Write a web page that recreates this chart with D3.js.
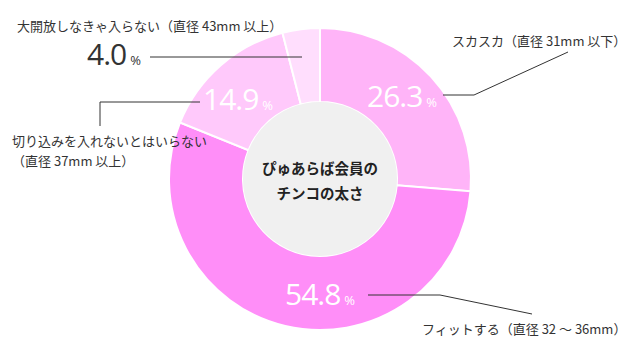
<!DOCTYPE html>
<html>
<head>
<meta charset="utf-8">
<script src="https://cdn.jsdelivr.net/npm/d3@7"></script>
<style>
  html, body { margin: 0; padding: 0; background: #fff; }
  svg { display: block; font-family: "Noto Sans CJK JP", "Noto Sans", sans-serif; }
</style>
</head>
<body>
<svg id="chart" width="640" height="360"></svg>
<script>
// データ（時計回り、12時の位置から）
const categories = [
  "スカスカ（直径 31mm 以下）",
  "フィットする（直径 32 ～ 36mm）",
  "切り込みを入れないとはいらない|（直径 37mm 以上）",
  "大開放しなきゃ入らない（直径 43mm 以上）"
];
const values = [26.3, 54.8, 14.9, 4.0];
const sliceColors = ["#ffb4f8", "#ff8ef8", "#ffc9fb", "#ffdefd"];
const centerTitle = ["ぴゅあらば会員の", "チンコの太さ"];

// ラベル配置（数値ラベル / カテゴリ名 / 引き出し線）
const labelLayout = [
  { value: [367, 107], valueColor: "#fff", name: [452, 46], line: [[443, 95], [474, 95], [568, 52]] },
  { value: [285, 305], valueColor: "#fff", name: [422, 334], line: [[368, 295], [440, 295], [532, 314]] },
  { value: [203, 110], valueColor: "#fff", name: [12, 146], line: [[200, 102], [100, 102], [100, 126]] },
  { value: [87, 65], valueColor: "#333", name: [17, 31], line: [[150, 57], [302, 57]] }
];

const cx = 320, cy = 179;
const outerR = 151, innerR = 77;

const svg = d3.select("#chart");
const g = svg.append("g").attr("transform", `translate(${cx},${cy})`);

const pie = d3.pie().sort(null).value(d => d);
const arc = d3.arc().innerRadius(innerR).outerRadius(outerR);

g.selectAll("path.slice")
  .data(pie(values))
  .enter()
  .append("path")
  .attr("class", "slice")
  .attr("d", arc)
  .attr("fill", (d, i) => sliceColors[i])
  .attr("stroke", "#fff")
  .attr("stroke-width", 2);

// 中央の円
g.append("circle")
  .attr("r", innerR)
  .attr("fill", "#f0f0f0");

g.selectAll("text.center")
  .data(centerTitle)
  .enter()
  .append("text")
  .attr("class", "center")
  .attr("x", 0)
  .attr("y", (d, i) => -5 + i * 25)
  .attr("text-anchor", "middle")
  .attr("font-size", "14.5px")
  .attr("font-weight", "bold")
  .attr("fill", "#222")
  .text(d => d);

// 引き出し線
const line = d3.line();
svg.selectAll("path.leader")
  .data(labelLayout)
  .enter()
  .append("path")
  .attr("class", "leader")
  .attr("d", d => line(d.line))
  .attr("fill", "none")
  .attr("stroke", "#333")
  .attr("stroke-width", 1);

// 数値ラベル
const valueText = svg.selectAll("text.value")
  .data(labelLayout)
  .enter()
  .append("text")
  .attr("class", "value")
  .attr("x", d => d.value[0])
  .attr("y", d => d.value[1])
  .attr("fill", d => d.valueColor)
  .attr("font-family", "'Open Sans', 'Noto Sans', sans-serif");

valueText.append("tspan")
  .attr("font-size", "30px")
  .attr("letter-spacing", "-1px")
  .text((d, i) => values[i].toFixed(1));

valueText.append("tspan")
  .attr("dx", 4)
  .attr("font-size", "13px")
  .text("%");

// カテゴリ名
const nameText = svg.selectAll("text.name")
  .data(labelLayout)
  .enter()
  .append("text")
  .attr("class", "name")
  .attr("x", d => d.name[0])
  .attr("y", d => d.name[1])
  .attr("font-size", "13px")
  .attr("fill", "#333");

nameText.each(function(d, i) {
  const parts = categories[i].split("|");
  d3.select(this).selectAll("tspan")
    .data(parts)
    .enter()
    .append("tspan")
    .attr("x", d.name[0])
    .attr("dy", (p, j) => j === 0 ? 0 : 20)
    .text(p => p);
});
</script>
</body>
</html>
